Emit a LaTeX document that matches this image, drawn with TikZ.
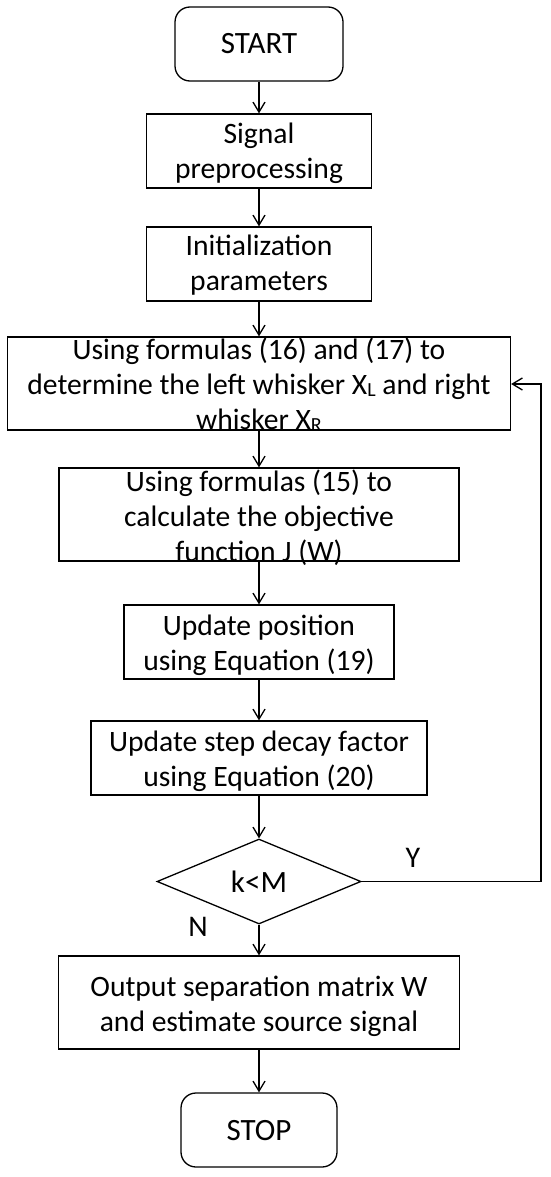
\documentclass[tikz,border=0pt]{standalone}
\usepackage{fontspec}
\setmainfont{Carlito}
\usetikzlibrary{arrows.meta,shapes.geometric}
\tikzset{
  box/.style={draw=black, line width=1.3pt, inner sep=0pt},
  term/.style={box, rounded corners=15pt},
  txt/.style={inner sep=0pt, align=center, font=\fontsize{29.6}{35}\selectfont},
  ttxt/.style={inner sep=0pt, font=\fontsize{31}{35}\selectfont},
  flow/.style={draw=black, line width=1.3pt, -{Straight Barb[length=10pt,width=12pt,line width=1.3pt]}},
  lbl/.style={inner sep=0pt, font=\fontsize{30}{35}\selectfont}
}
\newcommand{\subL}[1]{\raisebox{-1.5pt}{\fontsize{20}{20}\selectfont #1}}
\begin{document}
\begin{tikzpicture}[x=1pt,y=-1pt]
\useasboundingbox (0,0) rectangle (550,1177);
\fill[white] (0,0) rectangle (550,1177);
% boxes
\node[term, minimum width=168pt, minimum height=74pt] (start) at (259,44) {};
\node[box, minimum width=225pt, minimum height=74pt] (sig) at (259,151) {};
\node[box, minimum width=225pt, minimum height=74pt] (init) at (259,264) {};
\node[box, minimum width=503pt, minimum height=93pt] (f16) at (259,383.5) {};
\node[box, minimum width=400pt, minimum height=93pt] (f15) at (259,514.5) {};
\node[box, minimum width=270pt, minimum height=74pt] (upd) at (259,642) {};
\node[box, minimum width=336pt, minimum height=74pt] (stp) at (259,758) {};
\node[box, diamond, minimum width=204pt, minimum height=85pt] (dia) at (259,881.5) {};
\node[box, minimum width=401pt, minimum height=93pt] (out) at (259,1002.5) {};
\node[term, minimum width=156pt, minimum height=74pt] (stop) at (259,1130) {};
% texts
\node[ttxt] (tstart) at (259,43.5) {START};
\node[txt] (tsig) at (259,153) {Signal\\preprocessing};
\node[txt] (tinit) at (259,265.5) {Initialization\\parameters};
\node[txt] (tf16) at (259,384.5) {Using formulas (16) and (17) to\\determine the left whisker X\subL{L} and right\\whisker X\subL{R}};
\node[txt] (tf15) at (259,517.5) {Using formulas (15) to\\calculate the objective\\function J (W)};
\node[txt] (tupd) at (259,645.5) {Update position\\using Equation (19)};
\node[txt] (tstp) at (259,761.5) {Update step decay factor\\using Equation (20)};
\node[ttxt] (tdia) at (259,882) {k<M};
\node[txt] (tout) at (259,1006) {Output separation matrix W\\and estimate source signal};
\node[ttxt] (tstop) at (259,1131) {STOP};
\node[lbl] (ly) at (413,858) {Y};
\node[lbl] (ln) at (198,927) {N};
% connectors
\draw[flow] (start.south) -- (sig.north);
\draw[flow] (sig.south) -- (init.north);
\draw[flow] (init.south) -- (f16.north);
\draw[flow] (f16.south) -- (f15.north);
\draw[flow] (f15.south) -- (upd.north);
\draw[flow] (upd.south) -- (stp.north);
\draw[flow] (stp.south) -- (dia.north);
\draw[flow] (dia.south) -- (out.north);
\draw[flow] (out.south) -- (stop.north);
\coordinate (c1) at (541,881.5);
\coordinate (c2) at (541,384);
\draw[flow] (dia.east) -- (c1) -- (c2) -- (f16.east |- c2);
\end{tikzpicture}
\end{document}
